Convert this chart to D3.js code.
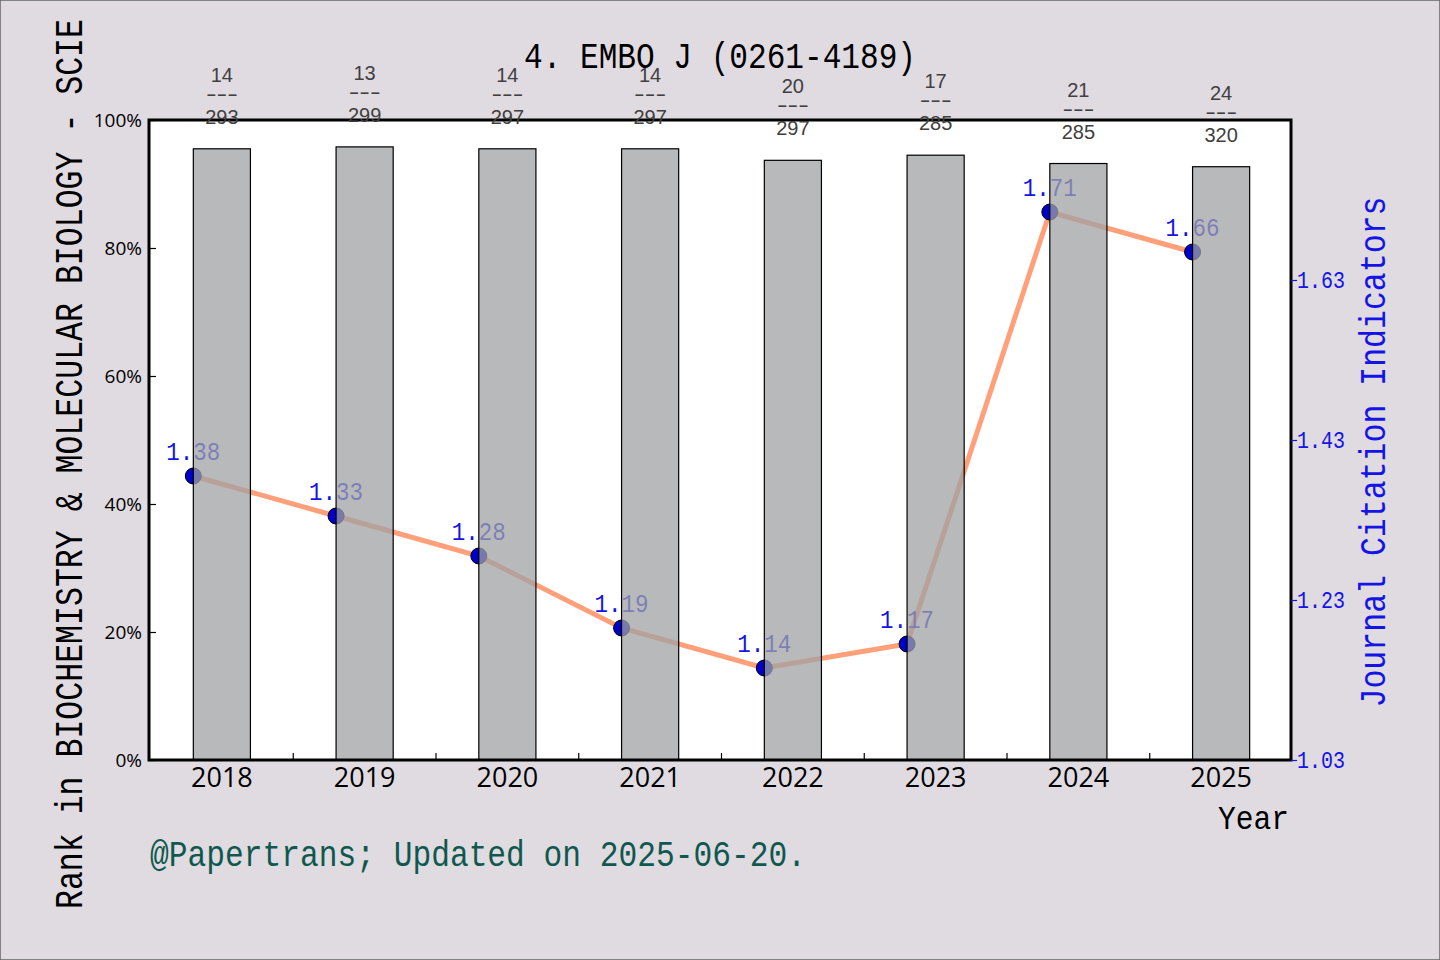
<!DOCTYPE html>
<html>
<head>
<meta charset="utf-8">
<script src="https://cdn.jsdelivr.net/npm/d3@7"></script>
<style>
  body { margin: 0; background: #dfdbe0; }
  svg { display: block; }
</style>
</head>
<body>
<div id="chart"></div>
<script>
// data
var years = ['2018', '2019', '2020', '2021', '2022', '2023', '2024', '2025']
var rankPct = [0.955, 0.958, 0.955, 0.955, 0.937, 0.945, 0.932, 0.927]
var ranks = [14, 13, 14, 14, 20, 17, 21, 24]
var totals = [293, 299, 297, 297, 297, 285, 285, 320]
var jci = [1.38, 1.33, 1.28, 1.19, 1.14, 1.17, 1.71, 1.66]
var pctTicks = [0, 0.2, 0.4, 0.6, 0.8, 1]
var jciTickLabels = ['1.03', '1.23', '1.43', '1.63']

var width = 1440, height = 960
var m = {left: 149, right: 1291, top: 120, bottom: 760}
var mono = '"Liberation Mono", "DejaVu Sans Mono", monospace'

var svg = d3.select('#chart').append('svg')
    .attr('width', width)
    .attr('height', height)

svg.append('rect')
  .attr('width', width).attr('height', height)
  .attr('fill', '#dfdbe0')
  .attr('stroke', '#666').attr('stroke-width', 1.5)

var x = d3.scaleBand().domain(years).range([m.left + 1.5, m.right + 1.5])
    .paddingInner(0.6).paddingOuter(0.3)
var y = d3.scaleLinear().domain([0, 1]).range([m.bottom, m.top])
var yJci = d3.scaleLinear().domain([1.025, 1.825]).range([m.bottom, m.top])
var step = x.step()

// plot area
svg.append('rect')
  .attr('x', m.left).attr('y', m.top)
  .attr('width', m.right - m.left).attr('height', m.bottom - m.top)
  .attr('fill', '#fff')

// JCI line + markers + labels (under the bars)
var line = d3.line().x((d, i) => x(years[i])).y(d => yJci(d))
svg.append('path')
  .attr('d', line(jci))
  .attr('fill', 'none')
  .attr('stroke', '#ffa07a')
  .attr('stroke-width', 5)

svg.selectAll('.dot').data(jci).enter().append('circle')
  .attr('cx', (d, i) => x(years[i]))
  .attr('cy', d => yJci(d))
  .attr('r', 8)
  .attr('fill', '#0000c8')
  .attr('stroke', '#000')
  .attr('stroke-width', 1)

svg.selectAll('.jlab').data(jci).enter().append('text')
  .attr('x', (d, i) => x(years[i]))
  .attr('y', d => yJci(d) - 16)
  .attr('text-anchor', 'middle')
  .attr('font-family', mono)
  .attr('font-size', 25)
  .attr('textLength', 54)
  .attr('lengthAdjust', 'spacingAndGlyphs')
  .attr('fill', '#1414e6')
  .text(d => d.toFixed(2))

// bars (semi transparent, on top)
svg.selectAll('.bar').data(rankPct).enter().append('rect')
  .attr('x', (d, i) => x(years[i]))
  .attr('y', d => y(d))
  .attr('width', x.bandwidth())
  .attr('height', d => y(0) - y(d))
  .attr('fill', 'rgb(160,161,164)')
  .attr('fill-opacity', 0.75)
  .attr('stroke', '#000')
  .attr('stroke-width', 1.2)

// frame
svg.append('rect')
  .attr('x', m.left).attr('y', m.top)
  .attr('width', m.right - m.left).attr('height', m.bottom - m.top)
  .attr('fill', 'none')
  .attr('stroke', '#000')
  .attr('stroke-width', 3)

// left axis
var gl = svg.append('g').attr('transform', `translate(${m.left},0)`)
  .call(d3.axisLeft(y).tickValues(pctTicks).tickFormat(d3.format('.0%'))
    .tickSizeInner(-7).tickSizeOuter(0).tickPadding(7))
gl.select('.domain').remove()
gl.selectAll('line').attr('stroke', '#000').attr('stroke-width', 1.2)
gl.selectAll('text')
  .attr('font-family', '"Open Sans", sans-serif')
  .attr('font-size', 19)
  .attr('fill', '#000')

// right axis
var jciTicks = jciTickLabels.map((d, i) => yJci.domain()[0] + 0.2 * i)
var gr = svg.append('g').attr('transform', `translate(${m.right},0)`)
  .call(d3.axisRight(yJci).tickValues(jciTicks).tickFormat((d, i) => jciTickLabels[i])
    .tickSizeInner(6).tickSizeOuter(0).tickPadding(0))
gr.select('.domain').remove()
gr.selectAll('line').attr('stroke', '#1414e6').attr('stroke-width', 1.2)
gr.selectAll('text')
  .attr('font-family', mono)
  .attr('font-size', 23)
  .attr('textLength', 48)
  .attr('lengthAdjust', 'spacingAndGlyphs')
  .attr('fill', '#1414e6')

// bottom axis labels
var gb = svg.append('g').attr('transform', `translate(0,${m.bottom})`)
  .call(d3.axisBottom(x).tickSize(0).tickPadding(8))
gb.select('.domain').remove()
gb.selectAll('text')
  .attr('font-family', '"Open Sans", sans-serif')
  .attr('font-size', 27)
  .attr('fill', '#000')

// boundary ticks between years
svg.selectAll('.btick').data(years.slice(1)).enter().append('line')
  .attr('x1', d => x(d) - step * 0.3)
  .attr('x2', d => x(d) - step * 0.3)
  .attr('y1', m.bottom)
  .attr('y2', m.bottom - 7)
  .attr('stroke', '#000')
  .attr('stroke-width', 1.2)

// rank / total labels above the bars
var lab = svg.selectAll('.rlab').data(years).enter().append('g')
  .attr('transform', (d, i) => `translate(${x(d) + x.bandwidth() / 2},${y(rankPct[i])})`)
  .attr('font-family', '"Liberation Sans", Arial, sans-serif')
  .attr('font-size', 20)
  .attr('fill', '#404040')
  .attr('text-anchor', 'middle')
lab.append('text').attr('y', -67).text((d, i) => ranks[i])
lab.append('text').attr('y', -48).attr('textLength', 32)
  .attr('lengthAdjust', 'spacingAndGlyphs').text('---')
lab.append('text').attr('y', -25).text((d, i) => totals[i])

// titles
svg.append('text')
  .attr('x', 720).attr('y', 68)
  .attr('text-anchor', 'middle')
  .attr('font-family', mono).attr('font-size', 36)
  .attr('textLength', 392).attr('lengthAdjust', 'spacingAndGlyphs')
  .attr('fill', '#000')
  .text('4. EMBO J (0261-4189)')

svg.append('text')
  .attr('transform', 'translate(82,464) rotate(-90)')
  .attr('text-anchor', 'middle')
  .attr('font-family', mono).attr('font-size', 38)
  .attr('textLength', 890).attr('lengthAdjust', 'spacingAndGlyphs')
  .attr('fill', '#000')
  .text('Rank in BIOCHEMISTRY & MOLECULAR BIOLOGY - SCIE')

svg.append('text')
  .attr('transform', 'translate(1385,452) rotate(-90)')
  .attr('text-anchor', 'middle')
  .attr('font-family', mono).attr('font-size', 36)
  .attr('textLength', 511).attr('lengthAdjust', 'spacingAndGlyphs')
  .attr('fill', '#1414e6')
  .text('Journal Citation Indicators')

svg.append('text')
  .attr('x', 1289).attr('y', 829)
  .attr('text-anchor', 'end')
  .attr('font-family', mono).attr('font-size', 34)
  .attr('textLength', 71).attr('lengthAdjust', 'spacingAndGlyphs')
  .attr('fill', '#000')
  .text('Year')

svg.append('text')
  .attr('x', 150).attr('y', 866)
  .attr('font-family', mono).attr('font-size', 36)
  .attr('textLength', 656).attr('lengthAdjust', 'spacingAndGlyphs')
  .attr('fill', '#10584f')
  .text('@Papertrans; Updated on 2025-06-20.')
</script>
</body>
</html>
